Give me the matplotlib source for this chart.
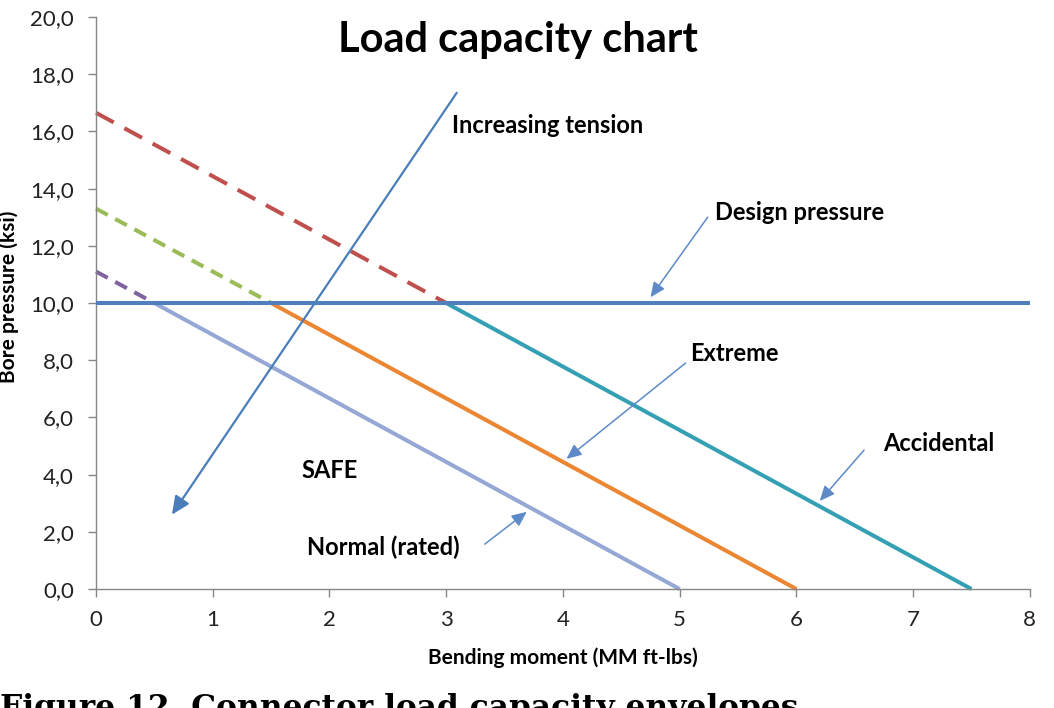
import matplotlib
matplotlib.use("Agg")
import matplotlib.pyplot as plt
from matplotlib.ticker import FuncFormatter, MultipleLocator

# envelope data (bending moment in MM ft-lbs, bore pressure in ksi)
design_x = [0, 8]
design_y = [10, 10]

normal_x = [0.5, 5.0]
normal_y = [10, 0]
normal_ext_x = [0, 0.5]
normal_ext_y = [11.1, 10]

extreme_x = [1.5, 6.0]
extreme_y = [10, 0]
extreme_ext_x = [0, 1.5]
extreme_ext_y = [13.3, 10]

accidental_x = [3.0, 7.5]
accidental_y = [10, 0]
accidental_ext_x = [0, 3.0]
accidental_ext_y = [16.65, 10]

tension_start = (3.09, 17.35)
tension_end = (0.65, 2.6)

plt.rcParams['font.family'] = ['Lato', 'DejaVu Sans']

fig = plt.figure(figsize=(10.54, 7.08), dpi=100)
ax = fig.add_axes([0.0911, 0.168, 0.886, 0.808])

lw = 2.9
ax.plot(normal_x, normal_y, color='#95A8D5', lw=lw, solid_capstyle='butt', clip_on=False)
ax.plot(extreme_x, extreme_y, color='#EB8633', lw=lw, solid_capstyle='butt', clip_on=False)
ax.plot(accidental_x, accidental_y, color='#35A0B3', lw=lw, solid_capstyle='butt', clip_on=False)
ax.plot(normal_ext_x, normal_ext_y, color='#7F63A1', lw=lw, dashes=(3.3, 2.1), clip_on=False)
ax.plot(extreme_ext_x, extreme_ext_y, color='#9BBB59', lw=lw, dashes=(3.3, 2.1), clip_on=False)
ax.plot(accidental_ext_x, accidental_ext_y, color='#C0504D', lw=lw, dashes=(5, 3), clip_on=False)
ax.plot(design_x, design_y, color='#4F7FBD', lw=lw, solid_capstyle='butt', clip_on=False, zorder=3)

# increasing tension arrow
ax.annotate('', xy=tension_end, xytext=tension_start,
            arrowprops=dict(arrowstyle='-|>,head_length=1.1,head_width=0.5',
                            color='#4A7EBB', lw=1.6, shrinkA=0, shrinkB=0))

acol = '#5E8AC7'
aprops = dict(arrowstyle='-|>,head_length=0.9,head_width=0.4', color=acol, lw=1.1,
              shrinkA=0, shrinkB=0)
ax.annotate('', xy=(4.75, 10.2), xytext=(5.24, 13.0), arrowprops=aprops)
ax.annotate('', xy=(4.03, 4.55), xytext=(5.05, 7.9), arrowprops=aprops)
ax.annotate('', xy=(6.2, 3.08), xytext=(6.58, 4.86), arrowprops=aprops)
ax.annotate('', xy=(3.69, 2.7), xytext=(3.33, 1.57), arrowprops=aprops)

tkw = dict(fontsize=17, fontweight='bold', color='black', va='center', ha='left')
ax.text(3.05, 16.2, 'Increasing tension', **tkw)
ax.text(5.3, 13.18, 'Design pressure', **tkw)
ax.text(5.09, 8.25, 'Extreme', **tkw)
ax.text(6.74, 5.1, 'Accidental', **tkw)
ax.text(1.76, 4.16, 'SAFE', **tkw)
ax.text(1.81, 1.47, 'Normal (rated)', **tkw)

fig.text(0.491, 0.9435, 'Load capacity chart', fontsize=30, fontweight='bold',
         ha='center', va='center')

ax.set_xlim(0, 8)
ax.set_ylim(0, 20)
ax.xaxis.set_major_locator(MultipleLocator(1))
ax.yaxis.set_major_locator(MultipleLocator(2))
ax.yaxis.set_major_formatter(FuncFormatter(lambda v, p: f'{v:.1f}'.replace('.', ',')))
ax.xaxis.set_major_formatter(FuncFormatter(lambda v, p: f'{v:.0f}'))

for s in ['top', 'right']:
    ax.spines[s].set_visible(False)
for s in ['left', 'bottom']:
    ax.spines[s].set_color('#868686')
    ax.spines[s].set_linewidth(1.0)
ax.tick_params(axis='both', direction='out', length=5.8, width=1.0, color='#868686',
               labelsize=16, labelcolor='#222222')
ax.tick_params(axis='y', pad=10)
ax.tick_params(axis='x', pad=9)

ax.set_xlabel('Bending moment (MM ft-lbs)', fontsize=15, fontweight='bold', labelpad=13)
ax.set_ylabel('Bore pressure (ksi)', fontsize=15, fontweight='bold')
ax.yaxis.set_label_coords(-0.083, 0.51)

fig.text(0.0, 1 - 693 / 708, 'Figure 12. Connector load capacity envelopes',
         family='DejaVu Serif', fontsize=22.5, fontweight='bold', ha='left', va='top')

fig.savefig('out.png', dpi=100)
